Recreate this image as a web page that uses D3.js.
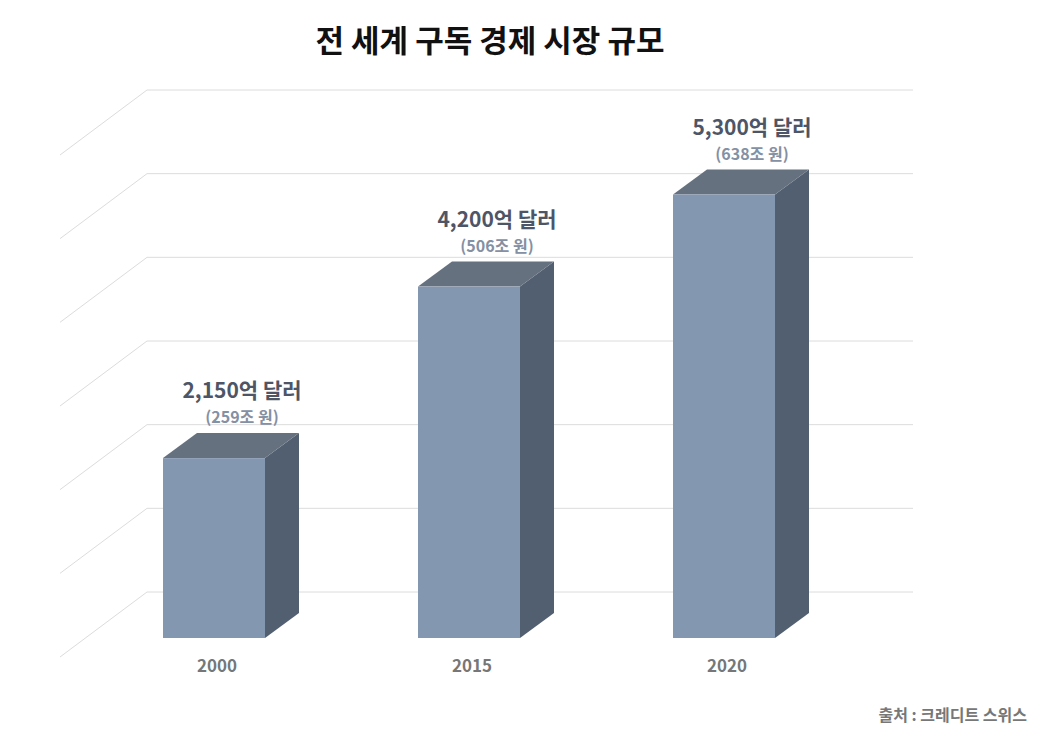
<!DOCTYPE html><html><head><meta charset="utf-8"><script src="https://cdn.jsdelivr.net/npm/d3@7"></script>
<style>body{margin:0;background:#fff}text{font-family:"Noto Sans CJK KR","Noto Sans",sans-serif}</style></head><body><svg id="c" width="1052" height="739"></svg><script>
const categories=["2000","2015","2020"];
const values=[2150,4200,5300];
const usdLabels=["2,150억 달러","4,200억 달러","5,300억 달러"];
const krwLabels=["(259조 원)","(506조 원)","(638조 원)"];
const gridTicks=[0,1000,2000,3000,4000,5000,6000];
const svg=d3.select("#c");
const y=d3.scaleLinear().domain([0,6000]).range([638,136]);
const gy=d3.scaleLinear().domain([0,6000]).range([592,90]);
const x=d3.scaleBand().domain(categories).range([86.5,851.5]).paddingInner(0.6).paddingOuter(0.3);
const dx=34,dy=-25;
svg.append("text").attr("x",490).attr("y",52).attr("text-anchor","middle").attr("font-size",31).attr("font-weight",700).attr("fill","#111").text("전 세계 구독 경제 시장 규모");
const g=svg.append("g");
gridTicks.forEach(t=>{
  g.append("line").attr("x1",147).attr("x2",913).attr("y1",gy(t)).attr("y2",gy(t)).attr("stroke","#dcdcdc");
  g.append("line").attr("x1",147).attr("x2",60).attr("y1",gy(t)).attr("y2",gy(t)+65).attr("stroke","#dcdcdc");
});
categories.forEach((c,i)=>{
  const x0=x(c),w=x.bandwidth(),yt=y(values[i]),yb=y(0);
  svg.append("polygon").attr("points",[[x0+w,yt],[x0+w+dx,yt+dy],[x0+w+dx,yb+dy],[x0+w,yb]].join(" ")).attr("fill","#525f70");
  svg.append("polygon").attr("points",[[x0,yt],[x0+dx,yt+dy],[x0+w+dx,yt+dy],[x0+w,yt]].join(" ")).attr("fill","#66717f");
  svg.append("rect").attr("x",x0).attr("y",yt).attr("width",w).attr("height",yb-yt).attr("fill","#8497b0");
  const cx=x0+w/2+28;
  svg.append("text").attr("x",cx).attr("y",yt+dy-35).attr("text-anchor","middle").attr("font-size",21).attr("font-weight",700).attr("fill","#4d5566").text(usdLabels[i]);
  svg.append("text").attr("x",cx).attr("y",yt+dy-10).attr("text-anchor","middle").attr("font-size",16).attr("font-weight",700).attr("fill","#8490a3").text(krwLabels[i]);
  svg.append("text").attr("x",x0+w/2+3).attr("y",672).attr("text-anchor","middle").attr("font-size",17).attr("font-weight",700).attr("fill","#777").text(c);
});
svg.append("text").attr("x",1027).attr("y",721).attr("text-anchor","end").attr("font-size",16).attr("font-weight",700).attr("fill","#777").text("출처 : 크레디트 스위스");
</script></body></html>
